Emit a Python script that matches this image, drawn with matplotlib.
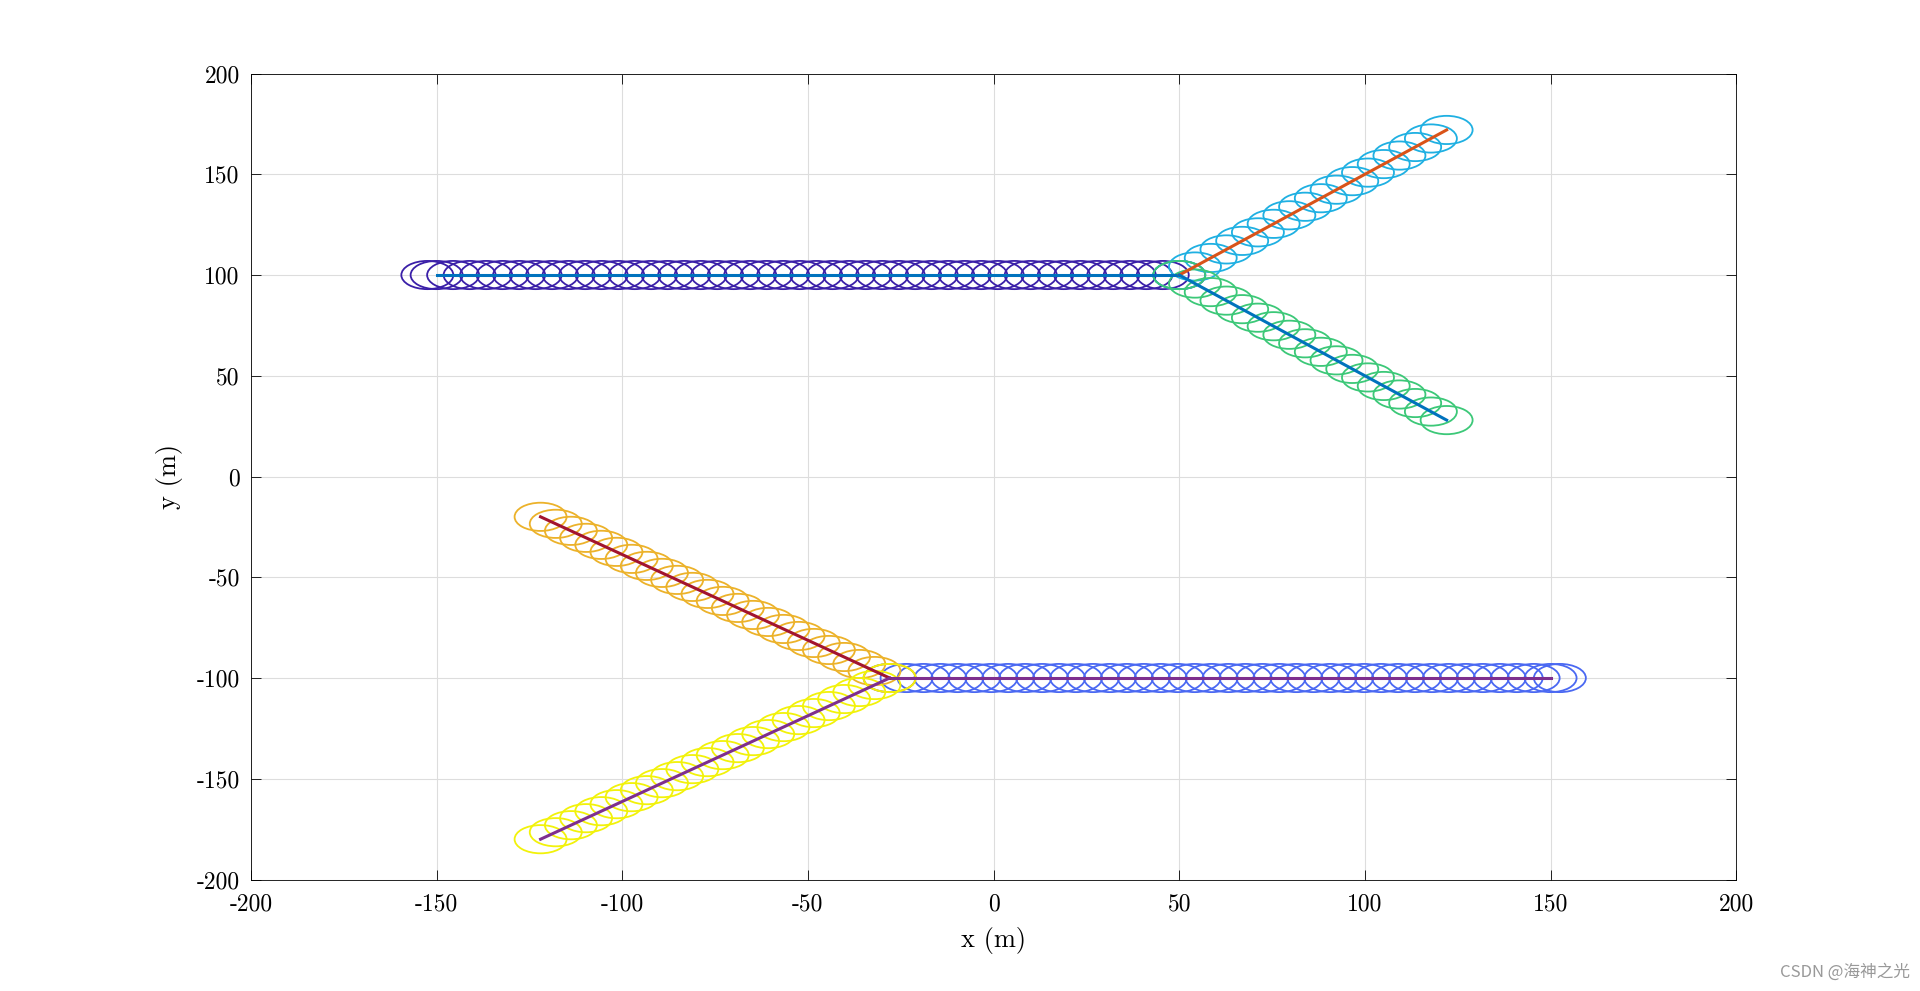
import numpy as np
import matplotlib.pyplot as plt
from matplotlib.patches import Circle

plt.rcParams['font.family'] = 'serif'
plt.rcParams['font.serif'] = ['cmr10', 'DejaVu Serif']
plt.rcParams['mathtext.fontset'] = 'cm'

# trajectory segments: start, end, number of sampled positions
seg_start = [(-150, 100), (50, 100), (50, 100), (150, -100), (-28, -100), (-28, -100)]
seg_end = [(50, 100), (122, 172), (122, 28), (-28, -100), (-122, -20), (-122, -180)]
seg_n = [46, 18, 18, 40, 24, 24]
# outer end of each horizontal run has one extra ring
extra_ring = [(-152.5, 100), (152.5, -100)]
extra_color = ['#3a1fa8', '#4a68f2']
line_colors = ['#0072BD', '#D95319', '#0072BD', '#7E2F8E', '#A2142F', '#7E2F8E']
circ_colors = ['#3a1fa8', '#1fb0e2', '#3cc878', '#4a68f2', '#ecb22a', '#f2f20a']
radius = 7

ticks = [-200, -150, -100, -50, 0, 50, 100, 150, 200]

fig = plt.figure(figsize=(19.2, 9.91), dpi=100)
ax = fig.add_axes([0.1307, 0.1125, 0.7736, 0.8133])

for s, e, n, lc, cc in zip(seg_start, seg_end, seg_n, line_colors, circ_colors):
    xs = np.linspace(s[0], e[0], n)
    ys = np.linspace(s[1], e[1], n)
    for x, y in zip(xs, ys):
        ax.add_patch(Circle((x, y), radius, fill=False, ec=cc, lw=1.3))
    ax.plot([s[0], e[0]], [s[1], e[1]], color=lc, lw=2.2)

for (x, y), cc in zip(extra_ring, extra_color):
    ax.add_patch(Circle((x, y), radius, fill=False, ec=cc, lw=1.3))

ax.set_xlim(-200, 200)
ax.set_ylim(-200, 200)
ax.set_xticks(ticks)
ax.set_yticks(ticks)
ax.set_xticklabels([str(t) for t in ticks])
ax.set_yticklabels([str(t) for t in ticks])
ax.tick_params(direction='in', top=True, right=True, labelsize=17, length=7, width=0.6)
ax.tick_params(axis='x', pad=10)
ax.tick_params(axis='y', pad=8)
ax.grid(True, color='#dddddd', lw=0.8)
ax.set_axisbelow(True)
for sp in ax.spines.values():
    sp.set_linewidth(0.6)
ax.set_xlabel('x (m)', fontsize=19, labelpad=8)
ax.set_ylabel('y (m)', fontsize=19, labelpad=10)

fig.text(0.995, 0.01, 'CSDN @海神之光', ha='right', va='bottom', fontsize=12, color='#999999',
         family=['Noto Sans CJK SC', 'DejaVu Sans'])

fig.savefig('out.png')
